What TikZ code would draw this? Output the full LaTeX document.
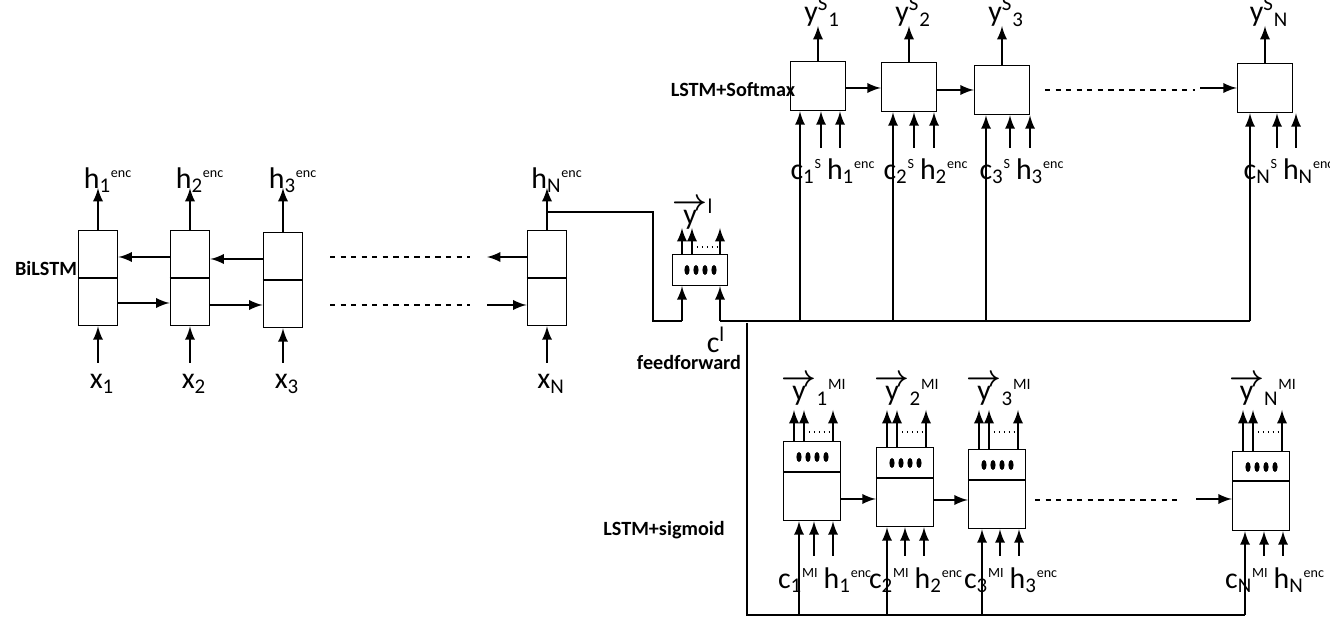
\documentclass[tikz,border=0pt]{standalone}
\usepackage{fontspec}
\usepackage{amsmath,amssymb}
\setmainfont{Carlito}
\newcommand{\vy}{\shortstack{$\boldsymbol{\rightarrow}$\\[-3pt]y}}
\begin{document}
\begin{tikzpicture}[x=0.02cm,y=-0.02cm,
  lab/.style={inner sep=0pt,font=\fontsize{17}{17}\selectfont},
  ttl/.style={inner sep=0pt,font=\fontsize{11.5}{12}\selectfont\bfseries},
  cell/.style={draw,thick,minimum width=1.1cm,inner sep=0pt},
  arr/.style={->,>=latex,line width=1.6pt},
  wire/.style={thick},
  dsh/.style={thick,dashed}]
\useasboundingbox (0,0) rectangle (1330,621);

% ---------------- BiLSTM ----------------
\node[ttl] (bil) at (46,268) {BiLSTM};
\foreach \i/\x/\y/\s in {1/98/230/1,2/190/230/2,3/283/232/3,N/547/230/N}{
  \node[cell,minimum width=0.79cm,minimum height=1.9cm,anchor=north] (b\i) at (\x,\y) {};
  \draw[thick] (b\i.west|-0,\y+48) -- (b\i.east|-0,\y+48);
  \node[lab] (h\i) at (\x+10,180) {h\textsubscript{\s}\textsuperscript{\fontsize{8}{8}\selectfont enc}};
  \coordinate (ht\i) at (\x,188);
  \draw[arr] (b\i.north) -- (ht\i);
  \node[lab] (x\i) at (\x+4,384) {x\textsubscript{\s}};
  \coordinate (xi\i) at (\x,363);
  \draw[arr] (xi\i) -- (b\i.south);
}
\draw[arr] (b2.west|-0,257) -- (b1.east|-0,257);
\draw[arr] (b3.west|-0,259) -- (b2.east|-0,259);
\draw[arr] (b1.east|-0,303) -- (b2.west|-0,303);
\draw[arr] (b2.east|-0,305) -- (b3.west|-0,305);
\coordinate (d1) at (330,257); \coordinate (d2) at (470,257);
\coordinate (d3) at (330,305); \coordinate (d4) at (470,305);
\draw[dsh] (d1) -- (d2);
\draw[dsh] (d3) -- (d4);
\coordinate (la) at (487,257); \coordinate (ra) at (487,305);
\draw[arr] (bN.west|-0,257) -- (la);
\draw[arr] (ra) -- (bN.west|-0,305);

% ---------------- feedforward ----------------
\node[draw,thick,minimum width=1.1cm,minimum height=0.62cm,inner sep=0pt] (ff) at (700,270) {};
\foreach \k in {0,1,2,3}
  \fill (ff.center) ++(-13+\k*9,0) ellipse (2.6 and 5);
\coordinate (ffo1) at (682,228); \coordinate (ffo2) at (692,228); \coordinate (ffo3) at (720,228);
\draw[arr] (ff.north-|ffo1) -- (ffo1);
\draw[arr] (ff.north-|ffo2) -- (ffo2);
\draw[arr] (ff.north-|ffo3) -- (ffo3);
\draw[dotted,thick] (692,247) -- (720,247);
\node[lab] (yl) at (693,214) {\vy\textsuperscript{l}};
\coordinate (hN1) at (653,212); \coordinate (hN2) at (653,321); \coordinate (ffi1) at (682,321);
\draw[wire] (bN.north|-hN1) -- (hN1) -- (hN2) -- (ffi1);
\draw[arr] (ffi1) -- (ff.south-|ffi1);
\coordinate (ffi2) at (720,321);
\draw[arr] (ffi2) -- (ff.south-|ffi2);
\node[lab] (cl) at (716,340) {c\textsuperscript{l}};
\node[ttl] (ffn) at (689,362) {feedforward};

% ---------------- LSTM+Softmax ----------------
\node[ttl] (lss) at (733,90) {LSTM+Softmax};
\coordinate (busS) at (1250,321);
\draw[wire] (ffi2) -- (busS);
\foreach \i/\x/\y/\l/\a/\b/\s in {1/818/61/800/821/840/1,2/909/62/893/914/934/2,3/1002/65/986/1010/1030/3,N/1265/63/1250/1277/1296/N}{
  \node[cell,minimum height=0.98cm,anchor=north] (s\i) at (\x,\y) {};
  \coordinate (so\i) at (\x,26);
  \draw[arr] (s\i.north) -- (so\i);
  \node[lab] (ys\i) at (\x+4,12) {y\textsuperscript{S}\textsubscript{\s}};
  \coordinate (sl\i) at (\l,321);
  \draw[arr] (sl\i) -- (s\i.south-|sl\i);
  \coordinate (sa\i) at (\a,148); \coordinate (sb\i) at (\b,148);
  \draw[arr] (sa\i) -- (s\i.south-|sa\i);
  \draw[arr] (sb\i) -- (s\i.south-|sb\i);
  \node[lab] (cs\i) at (\a+12,171) {c\textsubscript{\s}\textsuperscript{\fontsize{8}{8}\selectfont S}\,h\textsubscript{\s}\textsuperscript{\fontsize{8}{8}\selectfont enc}};
}
\draw[arr] (s1.east|-0,88) -- (s2.west|-0,88);
\draw[arr] (s2.east|-0,90) -- (s3.west|-0,90);
\coordinate (sd1) at (1045,90); \coordinate (sd2) at (1195,90);
\draw[dsh] (sd1) -- (sd2);
\coordinate (sa) at (1200,88);
\draw[arr] (sa) -- (sN.west|-0,88);

% ---------------- LSTM+sigmoid ----------------
\node[ttl] (lsg) at (664,530) {LSTM+sigmoid};
\coordinate (v1) at (747,323); \coordinate (v2) at (747,615); \coordinate (busM) at (1245,615);
\draw[wire] (v1) -- (v2) -- (busM);
\foreach \i/\x/\y/\dv/\l/\a/\b/\s in {1/812/441/31/799/814/833/1,2/905/447/31/887/905/924/2,3/997/449/31/982/1000/1019/3,N/1261/451/30/1245/1264/1283/N}{
  \node[cell,minimum width=1.14cm,minimum height=1.58cm,anchor=north] (m\i) at (\x,\y) {};
  \draw[thick] (m\i.west|-0,\y+\dv) -- (m\i.east|-0,\y+\dv);
  \foreach \k in {0,1,2,3}
    \fill (\x-13+\k*9,\y+16) ellipse (2.6 and 5);
  \coordinate (mo1\i) at (\x-18,410); \coordinate (mo2\i) at (\x-8,410); \coordinate (mo3\i) at (\x+21,410);
  \draw[arr] (m\i.north-|mo1\i) -- (mo1\i);
  \draw[arr] (m\i.north-|mo2\i) -- (mo2\i);
  \draw[arr] (m\i.north-|mo3\i) -- (mo3\i);
  \draw[dotted,thick] (\x-8,432) -- (\x+21,432);
  \node[lab] (ym\i) at (\x+2,390) {\vy\textsubscript{\s}\textsuperscript{\fontsize{9}{9}\selectfont MI}};
  \coordinate (ml\i) at (\l,615);
  \draw[arr] (ml\i) -- (m\i.south-|ml\i);
  \coordinate (ma\i) at (\a,556); \coordinate (mb\i) at (\b,556);
  \draw[arr] (ma\i) -- (m\i.south-|ma\i);
  \draw[arr] (mb\i) -- (m\i.south-|mb\i);
  \node[lab] (cm\i) at (\a+11,580) {c\textsubscript{\s}\textsuperscript{\fontsize{8}{8}\selectfont MI}\,h\textsubscript{\s}\textsuperscript{\fontsize{8}{8}\selectfont enc}};
}
\draw[arr] (m1.east|-0,499) -- (m2.west|-0,499);
\draw[arr] (m2.east|-0,500) -- (m3.west|-0,500);
\coordinate (md1) at (1035,500); \coordinate (md2) at (1180,500);
\draw[dsh] (md1) -- (md2);
\coordinate (ma) at (1196,499);
\draw[arr] (ma) -- (mN.west|-0,499);
\end{tikzpicture}
\end{document}
